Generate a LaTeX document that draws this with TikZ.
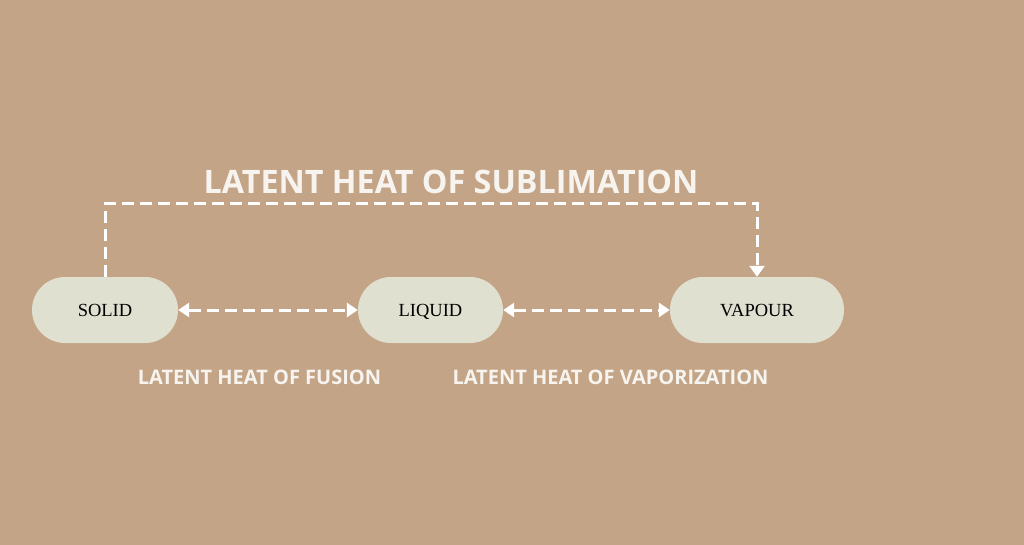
\documentclass[tikz,border=0pt]{standalone}
\usepackage{fontspec}
\setmainfont{Liberation Serif}
\newfontfamily\labelfont{Open Sans}
\usetikzlibrary{arrows.meta,shapes.misc}
\definecolor{bgtan}{HTML}{C4A486}
\definecolor{pill}{HTML}{E0E0D0}
\definecolor{txtwhite}{HTML}{F7F4EF}
\tikzset{
  x=1pt,y=-1pt,
  state/.style={rounded rectangle, fill=pill, minimum height=66pt, inner sep=0pt, text height=12.5pt, text depth=0.5pt, font=\fontsize{18.5}{20}\selectfont, text=black},
  conn/.style={draw=white, line width=3pt, dash pattern=on 12pt off 6pt, -{Triangle[width=15pt,length=11pt]}},
  conn2/.style={draw=white, line width=3pt, dash pattern=on 12pt off 6pt, {Triangle[width=14pt,length=11pt]}-{Triangle[width=14pt,length=11pt]}},
  lbl/.style={text=txtwhite, font=\labelfont\bfseries\fontsize{20}{22}\selectfont, inner sep=0pt}
}
\begin{document}
\begin{tikzpicture}
\fill[bgtan] (0,0) rectangle (1024,545);
\useasboundingbox (0,0) rectangle (1024,545);
\node[state, minimum width=146pt] (solid) at (105,310) {SOLID};
\node[state, minimum width=145pt] (liquid) at (430.5,310) {LIQUID};
\node[state, minimum width=174pt] (vapour) at (757,310) {VAPOUR};
\node[lbl, font=\labelfont\bfseries\fontsize{32.3}{34}\selectfont] (title) at (451,182) {LATENT HEAT OF SUBLIMATION};
\node[lbl] (fusion) at (259.5,377) {LATENT HEAT OF FUSION};
\node[lbl] (vapor) at (610.5,377) {LATENT HEAT OF VAPORIZATION};
\coordinate (c1) at (105,204);
\coordinate (c2) at (757,204);
\draw[conn] (solid.north) -- (c1) -- (c2) -- (vapour.north);
\draw[conn2] (solid.east) -- (liquid.west);
\draw[conn2] (liquid.east) -- (vapour.west);
\end{tikzpicture}
\end{document}
